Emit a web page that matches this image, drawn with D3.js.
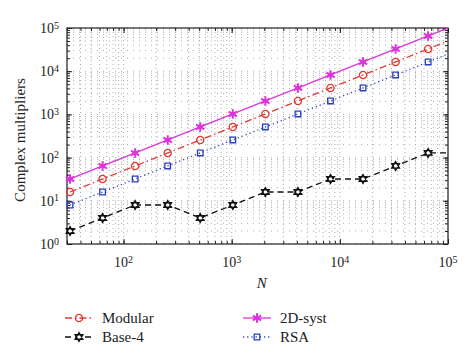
<!DOCTYPE html>
<html>
<head>
<meta charset="utf-8">
<script src="https://cdn.jsdelivr.net/npm/d3@7"></script>
<style>
  body { margin: 0; background: #fff; }
  text { font-family: "Liberation Serif", "DejaVu Serif", serif; fill: #222; }
</style>
</head>
<body>
<div id="chart"></div>
<script>
// Width and height
var svgWidth = 474;
var svgHeight = 362;

var margin = { top: 28, right: 26, bottom: 118, left: 67 };
var width = svgWidth - margin.left - margin.right;
var height = svgHeight - margin.top - margin.bottom;

// Data
var sizes = [32, 64, 128, 256, 512, 1024, 2048, 4096, 8192, 16384, 32768, 65536, 131072];
var modular = [16, 32, 64, 128, 256, 512, 1024, 2048, 4096, 8192, 16384, 32768, 65536];
var base4 = [2, 4, 8, 8, 4, 8, 16, 16, 32, 32, 64, 128, 128];
var syst2d = [32, 64, 128, 256, 512, 1024, 2048, 4096, 8192, 16384, 32768, 65536, 131072];
var rsa = [8, 16, 32, 64, 128, 256, 512, 1024, 2048, 4096, 8192, 16384, 32768];
var markerCount = 12; // last point only carries the line to the edge

var xTicks = [100, 1000, 10000, 100000];
var yTicks = [1, 10, 100, 1000, 10000, 100000];

var series = [
  { name: "Modular", values: modular, color: "#e03a32", dash: "7,3,1.5,3", marker: "circle" },
  { name: "Base-4", values: base4, color: "#111", dash: "6,4", marker: "hexagram" },
  { name: "2D-syst", values: syst2d, color: "#dd33dd", dash: null, marker: "asterisk" },
  { name: "RSA", values: rsa, color: "#2a3fbf", dash: "1.2,3", marker: "square" }
];

var svg = d3.select("#chart")
  .append("svg")
  .attr("width", svgWidth)
  .attr("height", svgHeight);

var chartGroup = svg.append("g")
  .attr("transform", `translate(${margin.left}, ${margin.top})`);

// Scales
var xScale = d3.scaleLog().domain([30, 100000]).range([0, width]);
var yScale = d3.scaleLog().domain([1, 100000]).range([height, 0]);

// minor tick values for a log scale
function minorTicks(lo, hi) {
  var out = [];
  for (var e = Math.floor(Math.log10(lo)); e <= Math.ceil(Math.log10(hi)); e++) {
    for (var m = 1; m < 10; m++) {
      var v = m * Math.pow(10, e);
      if (v >= lo && v <= hi) out.push(v);
    }
  }
  return out;
}
var xMinor = minorTicks(30, 100000);
var yMinor = minorTicks(1, 100000);

// Dotted grid
var grid = chartGroup.append("g").attr("class", "grid");
grid.selectAll("line.vx")
  .data(xMinor)
  .enter()
  .append("line")
  .attr("x1", d => xScale(d)).attr("x2", d => xScale(d))
  .attr("y1", 0).attr("y2", height)
  .attr("stroke", "#999")
  .attr("stroke-width", 0.8)
  .attr("stroke-dasharray", "1,3");
grid.selectAll("line.hy")
  .data(yMinor)
  .enter()
  .append("line")
  .attr("x1", 0).attr("x2", width)
  .attr("y1", d => yScale(d)).attr("y2", d => yScale(d))
  .attr("stroke", "#999")
  .attr("stroke-width", 0.8)
  .attr("stroke-dasharray", "1,5");

// Axes with inward ticks on all sides
function addAxis(axis, transform) {
  var g = chartGroup.append("g").attr("transform", transform).call(axis);
  g.selectAll("text").remove();
  g.select(".domain").remove();
  g.selectAll("line").attr("stroke", "#222");
  return g;
}
addAxis(d3.axisBottom(xScale).tickValues(xMinor).tickSize(-3), `translate(0, ${height})`);
addAxis(d3.axisBottom(xScale).tickValues(xTicks).tickSize(-5), `translate(0, ${height})`);
addAxis(d3.axisTop(xScale).tickValues(xMinor).tickSize(-3), "translate(0, 0)");
addAxis(d3.axisTop(xScale).tickValues(xTicks).tickSize(-5), "translate(0, 0)");
addAxis(d3.axisLeft(yScale).tickValues(yMinor).tickSize(-3), "translate(0, 0)");
addAxis(d3.axisLeft(yScale).tickValues(yTicks).tickSize(-5), "translate(0, 0)");
addAxis(d3.axisRight(yScale).tickValues(yMinor).tickSize(-3), `translate(${width}, 0)`);
addAxis(d3.axisRight(yScale).tickValues(yTicks).tickSize(-5), `translate(${width}, 0)`);

// Box
chartGroup.append("rect")
  .attr("width", width)
  .attr("height", height)
  .attr("fill", "none")
  .attr("stroke", "#222")
  .attr("stroke-width", 1.2);

// Tick labels with superscripts
function powLabel(sel, v) {
  sel.append("tspan").text("10");
  sel.append("tspan")
    .attr("dy", "-0.45em")
    .style("font-size", "10px")
    .text(Math.round(Math.log10(v)));
}
xTicks.forEach(function (v) {
  var t = chartGroup.append("text")
    .attr("x", xScale(v))
    .attr("y", height + 23)
    .attr("text-anchor", "middle")
    .style("font-size", "14px");
  powLabel(t, v);
});
yTicks.forEach(function (v) {
  var t = chartGroup.append("text")
    .attr("x", -27)
    .attr("y", yScale(v) + 5)
    .style("font-size", "14px");
  powLabel(t, v);
});

// Markers
function markerPath(type, r) {
  if (type === "circle") {
    return d3.symbol().type(d3.symbolCircle).size(Math.PI * r * r)();
  }
  if (type === "square") {
    return `M${-r},${-r}H${r}V${r}H${-r}Z`;
  }
  if (type === "asterisk") {
    var p = "";
    for (var i = 0; i < 3; i++) {
      var a = Math.PI / 2 + i * Math.PI / 3;
      p += `M${r * Math.cos(a)},${r * Math.sin(a)}L${-r * Math.cos(a)},${-r * Math.sin(a)}`;
    }
    p += `M${-r * 0.6},0L${r * 0.6},0`;
    return p;
  }
  // hexagram
  var t1 = [], t2 = [];
  for (var k = 0; k < 3; k++) {
    var a1 = -Math.PI / 2 + k * 2 * Math.PI / 3;
    var a2 = Math.PI / 2 + k * 2 * Math.PI / 3;
    t1.push([r * Math.cos(a1), r * Math.sin(a1)]);
    t2.push([r * Math.cos(a2), r * Math.sin(a2)]);
  }
  return "M" + t1.join("L") + "Z" + "M" + t2.join("L") + "Z";
}
function markerSize(type) {
  if (type === "square") return 2.8;
  if (type === "asterisk") return 4.8;
  if (type === "circle") return 3.6;
  return 4.5;
}

// Clip lines to plot area
chartGroup.append("clipPath")
  .attr("id", "plotClip")
  .append("rect")
  .attr("width", width)
  .attr("height", height);

var line = d3.line()
  .x(d => xScale(d.n))
  .y(d => yScale(d.v));

series.forEach(function (s) {
  var pts = sizes.map((n, i) => ({ n: n, v: s.values[i] }));
  chartGroup.append("path")
    .datum(pts)
    .attr("clip-path", "url(#plotClip)")
    .attr("d", line)
    .attr("fill", "none")
    .attr("stroke", s.color)
    .attr("stroke-width", 1.3)
    .attr("stroke-dasharray", s.dash);

  chartGroup.selectAll(null)
    .data(pts.slice(0, markerCount))
    .enter()
    .append("path")
    .attr("transform", d => `translate(${xScale(d.n)}, ${yScale(d.v)})`)
    .attr("d", markerPath(s.marker, markerSize(s.marker)))
    .attr("fill", s.marker === "hexagram" ? "#fff" : "none")
    .attr("stroke", s.color)
    .attr("stroke-width", s.marker === "asterisk" ? 2 : 1.3);
});

// Axis labels
chartGroup.append("text")
  .attr("transform", "rotate(-90)")
  .attr("x", -height / 2 - 4)
  .attr("y", -42)
  .attr("text-anchor", "middle")
  .style("font-size", "15px")
  .text("Complex multipliers");

chartGroup.append("text")
  .attr("x", xScale(1000) + 30)
  .attr("y", height + 44)
  .attr("text-anchor", "middle")
  .style("font-size", "15px")
  .style("font-style", "italic")
  .text("N");

// Legend (two columns)
var legendPos = [[0, 318], [0, 337], [178, 318], [178, 337]];
series.forEach(function (s, i) {
  var lg = svg.append("g")
    .attr("transform", `translate(${65 + legendPos[i][0]}, ${legendPos[i][1]})`);
  lg.append("line")
    .attr("x1", 0).attr("x2", 28)
    .attr("stroke", s.color)
    .attr("stroke-width", 1.3)
    .attr("stroke-dasharray", s.dash);
  lg.append("path")
    .attr("transform", "translate(14, 0)")
    .attr("d", markerPath(s.marker, markerSize(s.marker)))
    .attr("fill", s.marker === "hexagram" ? "#fff" : "none")
    .attr("stroke", s.color)
    .attr("stroke-width", s.marker === "asterisk" ? 2 : 1.3);
  lg.append("text")
    .attr("x", 37)
    .attr("y", 5)
    .style("font-size", "15px")
    .text(s.name);
});
</script>
</body>
</html>
